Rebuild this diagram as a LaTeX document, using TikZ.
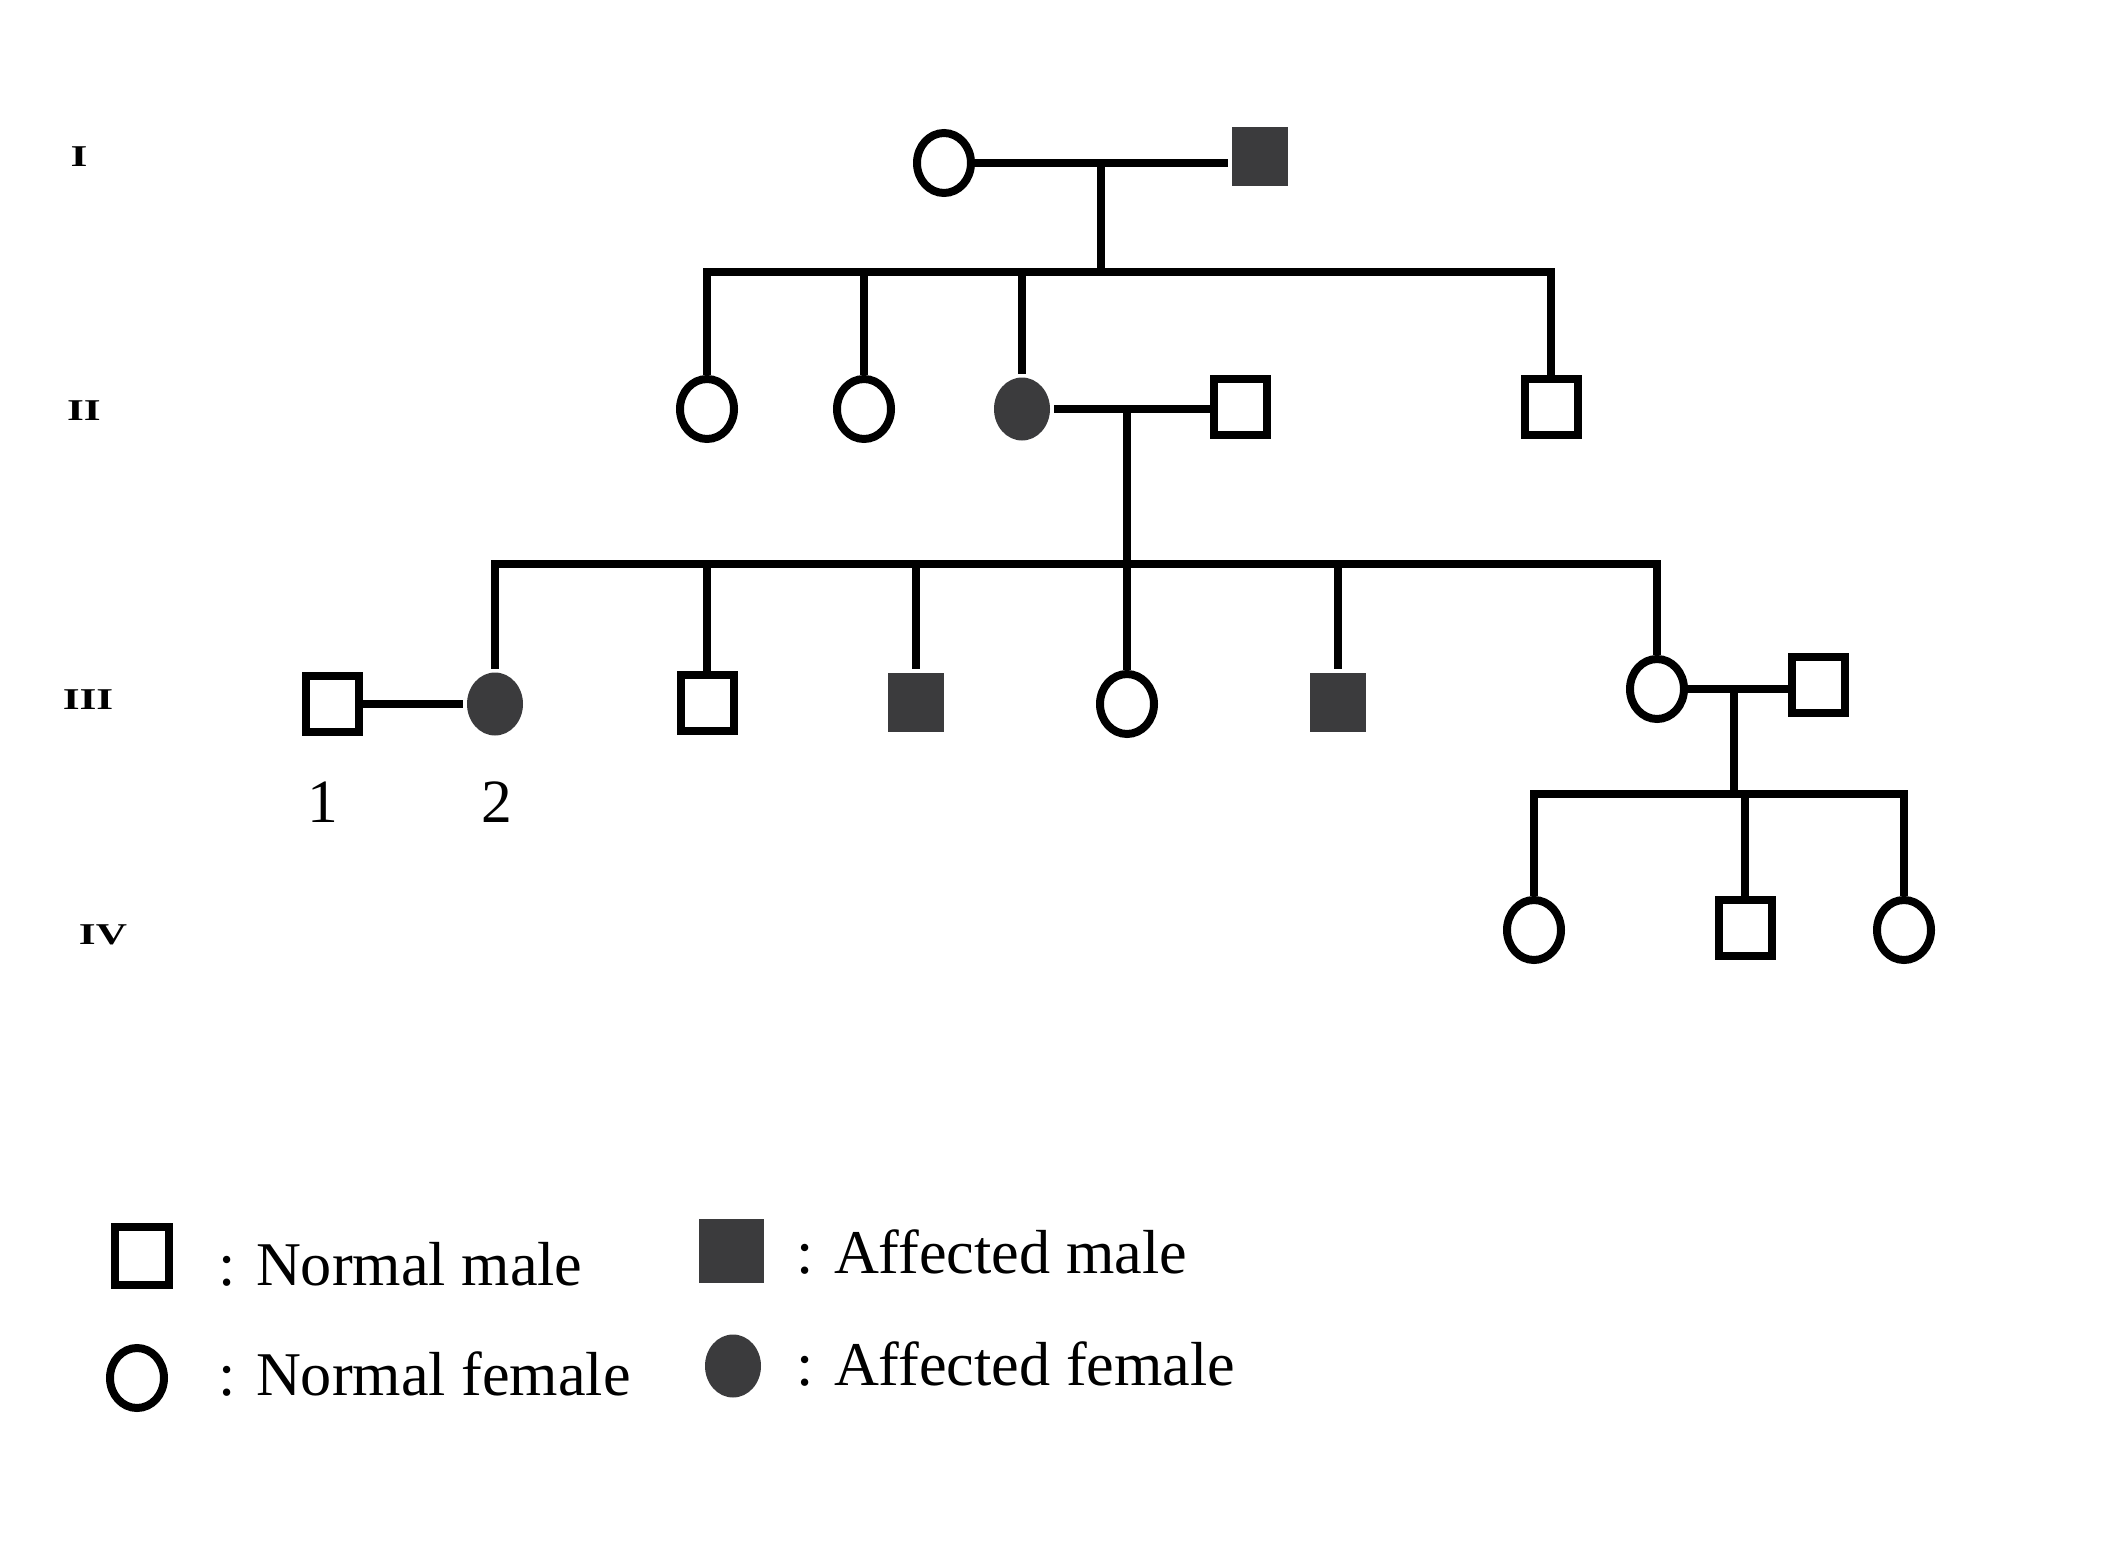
\documentclass[tikz,border=0pt]{standalone}
\usepackage{fontspec}
\setmainfont{Liberation Serif}
\usetikzlibrary{positioning, shapes.geometric}
\definecolor{affgray}{RGB}{59,59,61}

\begin{document}
\begin{tikzpicture}[
    line width=0.8mm,
    male/.style={rectangle, draw, line width=0.8mm, minimum width=0.53cm, minimum height=0.56cm, inner sep=0pt},
    female/.style={ellipse, draw, line width=0.8mm, minimum width=0.54cm, minimum height=0.6cm, inner sep=0pt},
    affmale/.style={rectangle, fill=affgray, minimum width=0.56cm, minimum height=0.59cm, inner sep=0pt},
    afffemale/.style={ellipse, fill=affgray, minimum width=0.56cm, minimum height=0.63cm, inner sep=0pt},
    gen/.style={font=\fontsize{8.6}{10}\selectfont\bfseries, inner sep=0pt},
    num/.style={font=\fontsize{17.5}{20}\selectfont, anchor=base, inner sep=0pt},
    legtext/.style={font=\fontsize{17.7}{20}\selectfont, anchor=base west, inner sep=0pt}
]
\useasboundingbox (0,0) rectangle (21.04,-15.56);

% Generation labels
\node[gen] (gI) at (0.79,-1.57) {\scalebox{1.43}[1]{I}};
\node[gen] (gII) at (0.84,-4.11) {\scalebox{1.43}[1]{II}};
\node[gen] (gIII) at (0.88,-7.00) {\scalebox{1.43}[1]{III}};
\node[gen] (gIV) at (1.03,-9.35) {\scalebox{1.43}[1]{IV}};

% Generation I
\node[female] (I1) at (9.44,-1.63) {};
\node[affmale] (I2) at (12.60,-1.57) {};
\coordinate (m1) at (11.01,-1.63);
\coordinate (s2) at (11.01,-2.72);
\draw (I1.east) -- (I1.east -| I2.west);
\draw (m1) -- (s2);

% Generation II
\node[female] (II1) at (7.07,-4.09) {};
\node[female] (II2) at (8.64,-4.09) {};
\node[afffemale] (II3) at (10.22,-4.09) {};
\node[male] (II4) at (12.40,-4.07) {};
\node[male] (II5) at (15.51,-4.07) {};
\draw (II1.north) |- (II5.north |- s2) -- (II5.north);
\foreach \c in {II2,II3}
    \draw (\c.north) -- (\c.north |- s2);
\coordinate (m2) at (11.27,-4.09);
\coordinate (s3) at (11.27,-5.64);
\draw (II3.east) -- (II3.east -| II4.west);
\draw (m2) -- (s3);

% Generation III
\node[male] (III1) at (3.32,-7.04) {};
\node[afffemale] (III2) at (4.95,-7.04) {};
\node[male] (III3) at (7.07,-7.03) {};
\node[affmale] (III4) at (9.16,-7.02) {};
\node[female] (III5) at (11.27,-7.04) {};
\node[affmale] (III6) at (13.38,-7.02) {};
\node[female] (III7) at (16.57,-6.89) {};
\node[male] (III8) at (18.18,-6.85) {};
\draw (III2.north) |- (III7.north |- s3) -- (III7.north);
\foreach \c in {III3,III4,III5,III6}
    \draw (\c.north) -- (\c.north |- s3);
\draw (III1) -- (III2);
\node[num] (n1) at (3.23,-8.22) {1};
\node[num] (n2) at (4.97,-8.22) {2};
\coordinate (m3) at (17.34,-6.89);
\coordinate (s4) at (17.34,-7.94);
\draw (III7.east) -- (III7.east -| III8.west);
\draw (m3) -- (s4);

% Generation IV
\node[female] (IV1) at (15.34,-9.30) {};
\node[male] (IV2) at (17.45,-9.28) {};
\node[female] (IV3) at (19.04,-9.30) {};
\draw (IV1.north) |- (IV3.north |- s4) -- (IV3.north);
\draw (IV2.north) -- (IV2.north |- s4);

% Legend
\node[male, minimum width=0.54cm, minimum height=0.58cm] (kmale) at (1.42,-12.56) {};
\node[legtext] (tmale) at (2.14,-12.85) {: Normal male};
\node[female] (kfem) at (1.37,-13.78) {};
\node[legtext] (tfem) at (2.14,-13.95) {: Normal female};
\node[affmale, minimum width=0.65cm, minimum height=0.64cm] (kaffm) at (7.31,-12.51) {};
\node[legtext] (taffm) at (7.92,-12.73) {: Affected male};
\node[afffemale] (kafff) at (7.33,-13.66) {};
\node[legtext] (tafff) at (7.92,-13.85) {: Affected female};
\end{tikzpicture}
\end{document}
